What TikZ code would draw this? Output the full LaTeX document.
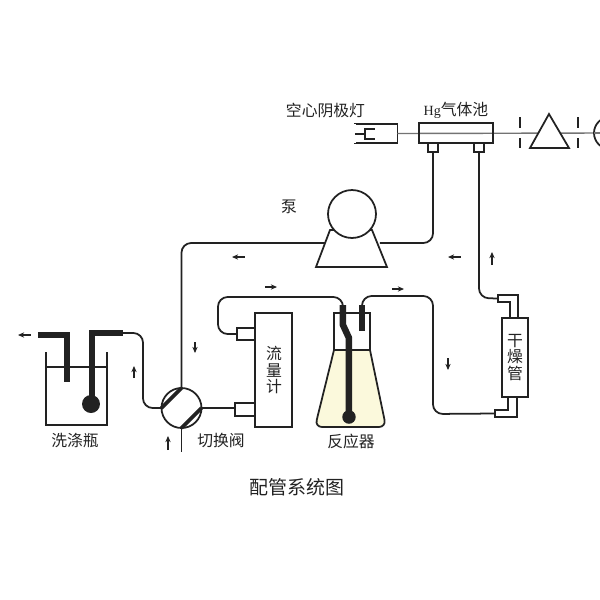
\documentclass[tikz,border=0pt]{standalone}
\usepackage{fontspec}
\usetikzlibrary{arrows.meta}
\setmainfont{Noto Sans CJK SC}
\newfontfamily\hgfont{Liberation Serif}
\definecolor{liquid}{HTML}{FBF9DC}
\definecolor{ink}{HTML}{222222}
\begin{document}
\begin{tikzpicture}[font=\fontsize{9}{10.5}\selectfont,>=stealth,x=0.02cm,y=-0.02cm,color=ink]
    \tikzset{
        part/.style={draw,line width=1pt,fill=white,inner sep=0pt,outer sep=0pt,align=center},
        txt/.style={inner sep=0pt,align=center},
        tube/.style={line width=1pt,rounded corners=5.5pt},
        thin line/.style={line width=1pt},
        glass/.style={line width=3.7pt},
        flow/.style={-{Stealth[length=3.5pt,width=3pt]},line width=0.6pt},
        beam/.style={draw=black!55,line width=0.8pt}
    }
    \useasboundingbox (0,0) rectangle (600,600);
    \clip (0,0) rectangle (600,600);

    \coordinate (beamend) at (600,133);
    \node[part,minimum width=0.86cm,minimum height=0.38cm] (lamp) at (376,133.5) {};
    \draw[beam] (lamp.east) -- (beamend);
    \node[part,fill=none,minimum width=1.48cm,minimum height=0.40cm] (cell) at (456,133) {};
    \node[part,minimum width=0.2cm,minimum height=0.18cm] (cella) at (433,147.5) {};
    \node[part,minimum width=0.2cm,minimum height=0.18cm] (cellb) at (479,147.5) {};
    \node[part,circle,minimum size=0.64cm] (detector) at (610,133) {};
    \draw[beam] (detector.west) -- (beamend);

    \draw[white,line width=1.4pt] (lamp.north west) -- (lamp.south west);
    \draw[thin line] (375,129) -- (365,129) -- (365,139) -- (375,139);
    \draw[thin line] (355,134) -- (365,134);

    \draw[line width=1pt] (520,117) -- (520,128) (520,138) -- (520,148);
    \draw[line width=1pt] (578,117) -- (578,128) (578,138) -- (578,148);
    \draw[thin line,fill=white] (549,114) -- (569,148) -- (530,148) -- cycle;

    \draw[thin line,fill=white] (330,230) -- (316,267) -- (387,267) -- (372,230) -- cycle;
    \node[part,circle,minimum size=0.96cm] (pump) at (352,214) {};
    \coordinate (pumpl) at (325,243);
    \coordinate (pumpr) at (380,243);

    \node[part,circle,minimum size=0.8cm] (valve) at (181.5,408) {};
    \draw[line width=2.2pt] (valve.west) -- (valve.north);
    \draw[line width=2.2pt] (valve.south) -- (valve.east);
    \coordinate (valveend) at (181.5,452);

    \node[part,minimum width=0.74cm,minimum height=2.28cm] (meter) at (273.5,370) {};
    \node[part,minimum width=0.36cm,minimum height=0.24cm] (metera) at (246,334) {};
    \node[part,minimum width=0.40cm,minimum height=0.26cm] (meterb) at (245,409.5) {};
    \node[txt] (meterlabel) at (274,370) {流\\[-1pt]量\\[-1pt]计};

    \node[part,minimum width=0.52cm,minimum height=1.58cm] (dryer) at (515,357.5) {干\\[-1pt]燥\\[-1pt]管};
    \coordinate (dryera) at (498,298.5);
    \coordinate (dryerb) at (495,413.5);
    \draw[thin line] (510,318) -- (510,302) -- (498,302) -- (498,295) -- (518,295) -- (518,318);
    \draw[thin line] (508,397) -- (508,410) -- (495,410) -- (495,417) -- (517,417) -- (517,397);

    \draw[thin line,fill=liquid] (370,350) -- (334,350) [rounded corners=4pt] -- (315,427) -- (386,427) [sharp corners] -- (370,350) -- cycle;
    \draw[thin line] (334,350) -- (334,313) -- (370,313) -- (370,350);
    \coordinate (reactorin) at (343,305);
    \coordinate (reactorout) at (362,305);
    \draw[glass] (reactorin) -- (343,325) -- (349,338) -- (349,417);
    \node[circle,fill=ink,minimum size=0.27cm,inner sep=0pt] (reactorball) at (349,417) {};
    \draw[glass] (reactorout) -- (362,331);

    \draw[thin line] (46,352) -- (46,425) -- (107,425) -- (107,352);
    \draw[thin line] (46,367) -- (107,367);
    \coordinate (washout) at (38,335);
    \coordinate (washin) at (123,333);
    \draw[glass] (washout) -- (67,335) -- (67,382);
    \draw[glass] (washin) -- (92,333) -- (92,404);
    \node[circle,fill=ink,minimum size=0.36cm,inner sep=0pt] (washball) at (91,404) {};

    \draw[tube] (cella.south) -- (pumpr -| cella) -- (pumpr);
    \draw[tube] (pumpl) -- (pumpl -| valve) -- (valve.north);
    \draw[tube] (valve.west) -- (143,408) -- (143,333) -- (washin);
    \draw[thin line] (valve.south) -- (valveend);
    \draw[thin line] (valve.east) -- (valve.east -| meterb.west);
    \draw[tube] (metera.west) -- (218,334) -- (218,297) -- (343,297) -- (reactorin);
    \draw[tube] (reactorout) -- (362,296) -- (433,296) -- (433,414) -- (dryerb);
    \draw[tube] (dryera) -- (479,298) -- (cellb.south);

    \draw[flow] (31,335) -- (18,335);
    \draw[flow] (134,378) -- (134,366);
    \draw[flow] (195,342) -- (195,353);
    \draw[flow] (168,450) -- (168,436);
    \draw[flow] (245,257) -- (232,257);
    \draw[flow] (265,287) -- (277,287);
    \draw[flow] (392,289) -- (404,289);
    \draw[flow] (461,257) -- (448,257);
    \draw[flow] (492,265) -- (492,252);
    \draw[flow] (448,358) -- (448,370);

    \node[txt] (lamplabel) at (325.5,110) {空心阴极灯};
    \node[txt] (celllabel) at (456,110) {{\hgfont\fontsize{8}{10}\selectfont Hg}气体池};
    \node[txt] (pumplabel) at (289,207) {泵};
    \node[txt] (washlabel) at (75,440) {洗涤瓶};
    \node[txt] (valvelabel) at (221,440) {切换阀};
    \node[txt] (reactorlabel) at (351,441) {反应器};
    \node[txt,font=\fontsize{10.8}{13}\selectfont] (title) at (297,487) {配管系统图};
\end{tikzpicture}
\end{document}
